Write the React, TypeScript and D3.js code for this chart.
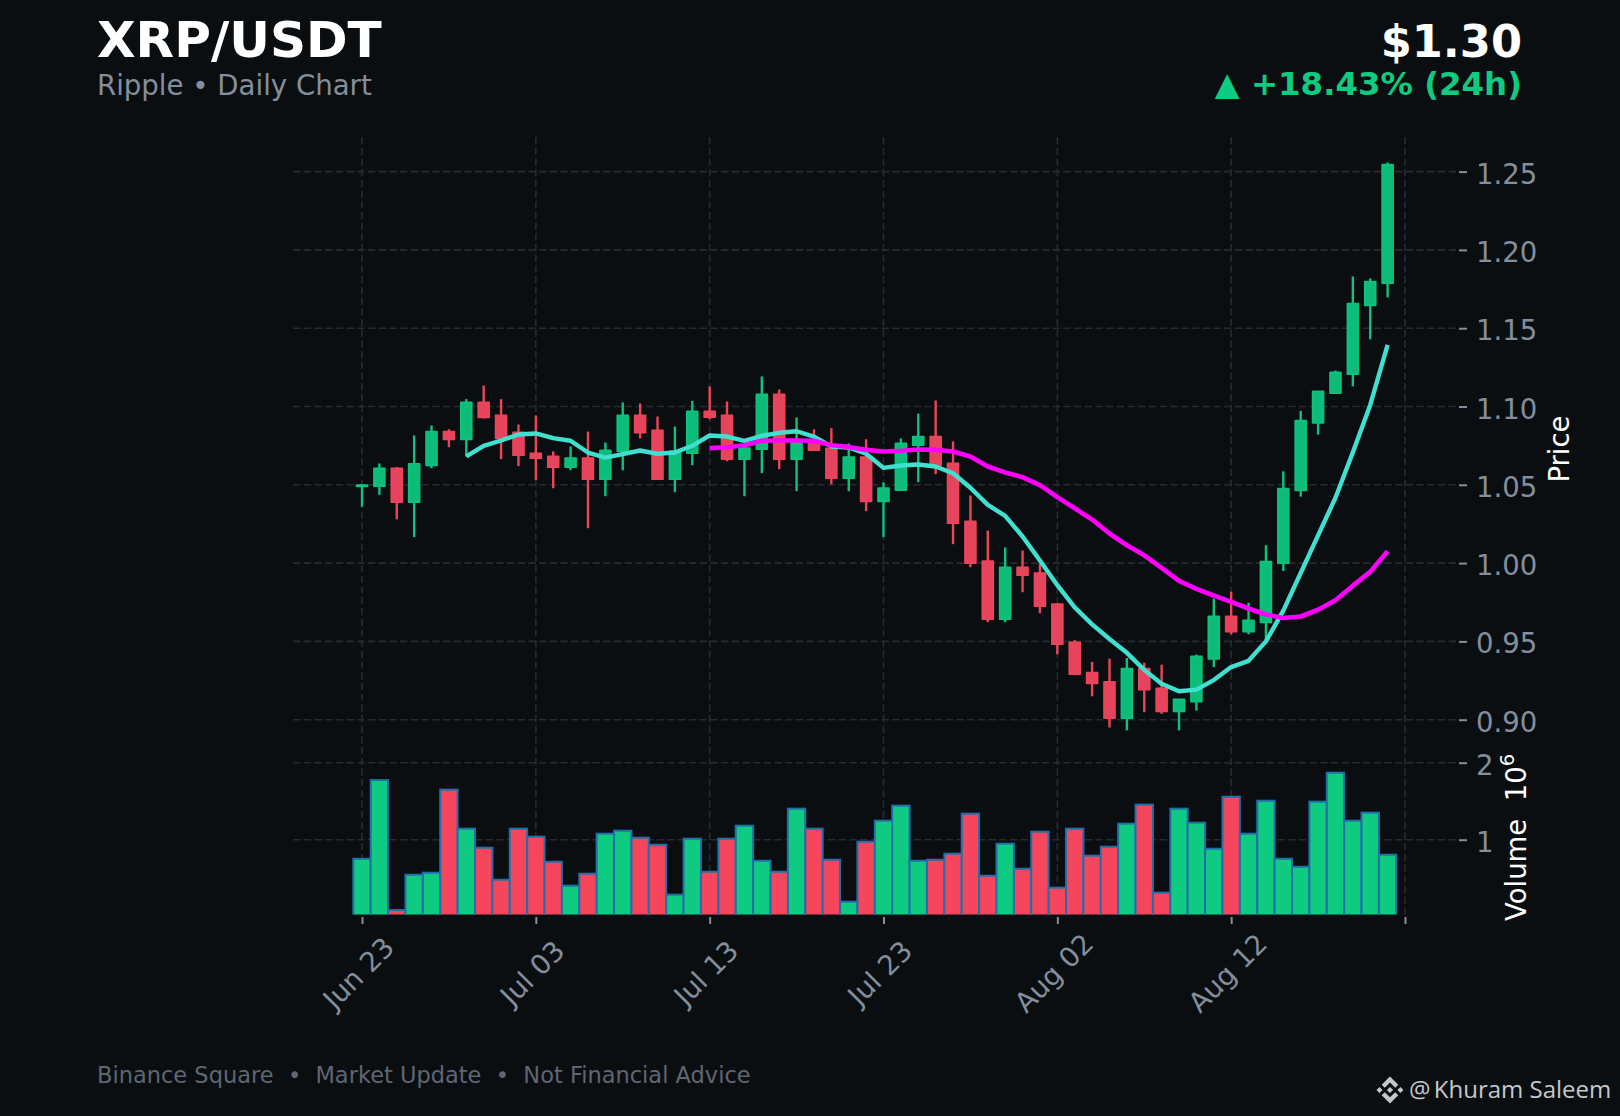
import React, { useEffect, useRef } from "react";
import * as d3 from "d3";

const WIDTH = 1620;
const HEIGHT = 1116;

const BG = "#0B0E11";
const GREEN = "#0ECB81";
const RED = "#F6465D";
const GRID = "#2B3139";
const MUTED = "#848E9C";

const START_DATE = Date.UTC(2025, 5, 23);
const DAY = 86400000;

const opens = [
  1.049, 1.0491, 1.0604, 1.0389, 1.0625, 1.084, 1.0791, 1.1026, 1.0943, 1.0834,
  1.07, 1.0681, 1.0613, 1.067, 1.0536, 1.0713, 1.0943, 1.0847, 1.0536, 1.0702,
  1.0968, 1.0943, 1.0664, 1.0728, 1.1077, 1.0664, 1.0787, 1.0732, 1.0542, 1.0676,
  1.0395, 1.0466, 1.0753, 1.0808, 1.0636, 1.0266, 1.0012, 0.9642, 0.9972, 0.9936,
  0.9738, 0.9494, 0.9301, 0.9242, 0.901, 0.9326, 0.92, 0.9053, 0.9116, 0.9389,
  0.9659, 0.9563, 0.9621, 1.0, 1.0465, 1.0896, 1.1086, 1.1207, 1.1646, 1.1788,
];
const highs = [
  1.0505, 1.0636, 1.0613, 1.0815, 1.0879, 1.0855, 1.1047, 1.1134, 1.1047, 1.0885,
  1.0943, 1.0713, 1.0745, 1.084, 1.077, 1.1026, 1.1019, 1.0936, 1.0872, 1.1036,
  1.1128, 1.1032, 1.0745, 1.1192, 1.1109, 1.093, 1.0855, 1.0862, 1.0764, 1.0791,
  1.0515, 1.0796, 1.0955, 1.1038, 1.0777, 1.0432, 1.0208, 1.01, 1.008, 0.9995,
  0.9744, 0.9508, 0.9369, 0.9389, 0.9394, 0.9364, 0.9351, 0.9129, 0.9416, 0.9773,
  0.9818, 0.9747, 1.0114, 1.0586, 1.0972, 1.1096, 1.123, 1.1831, 1.1818, 1.2558,
];
const lows = [
  1.036, 1.0436, 1.028, 1.0166, 1.0606, 1.074, 1.068, 1.0923, 1.0664, 1.0619,
  1.053, 1.0478, 1.0593, 1.0223, 1.0427, 1.0593, 1.0796, 1.0536, 1.0453, 1.0625,
  1.0919, 1.0651, 1.0427, 1.0574, 1.06, 1.0459, 1.0721, 1.0504, 1.0459, 1.0332,
  1.0166, 1.0466, 1.0517, 1.0568, 1.0121, 0.9974, 0.9623, 0.9623, 0.9814, 0.968,
  0.9418, 0.9285, 0.9149, 0.895, 0.8932, 0.9048, 0.9038, 0.8932, 0.9058, 0.9336,
  0.9545, 0.9545, 0.9508, 0.995, 1.0424, 1.0821, 1.1086, 1.1129, 1.1429, 1.1697,
];
const closes = [
  1.0497, 1.0604, 1.0389, 1.0634, 1.084, 1.0791, 1.1026, 1.093, 1.0796, 1.0689,
  1.067, 1.0613, 1.067, 1.0536, 1.0719, 1.0943, 1.0834, 1.0536, 1.0713, 1.0968,
  1.0932, 1.0664, 1.0734, 1.1077, 1.0664, 1.0766, 1.0721, 1.0542, 1.0676, 1.0395,
  1.0478, 1.0764, 1.0808, 1.0625, 1.0255, 1.0, 0.9642, 0.9972, 0.9923, 0.9725,
  0.9482, 0.9291, 0.9232, 0.901, 0.9326, 0.9192, 0.9053, 0.9129, 0.9404, 0.9659,
  0.9563, 0.9634, 1.001, 1.0475, 1.0909, 1.1096, 1.1217, 1.1657, 1.1798, 1.2545,
];
// volume in millions
const volumes = [
  0.753, 1.775, 0.087, 0.545, 0.571, 1.65, 1.143, 0.896, 0.48, 1.143,
  1.039, 0.714, 0.403, 0.558, 1.078, 1.117, 1.026, 0.935, 0.286, 1.013,
  0.584, 1.013, 1.182, 0.727, 0.584, 1.403, 1.143, 0.74, 0.195, 0.974,
  1.247, 1.442, 0.727, 0.74, 0.818, 1.338, 0.532, 0.948, 0.623, 1.104,
  0.377, 1.143, 0.792, 0.909, 1.208, 1.455, 0.312, 1.403, 1.221, 0.883,
  1.558, 1.078, 1.506, 0.753, 0.649, 1.494, 1.87, 1.247, 1.351, 0.805,
];

const MA_SHORT_START = 6;
const maShort = [
  1.0681, 1.0749, 1.0783, 1.0821, 1.0828, 1.0798, 1.0781, 1.0706, 1.0674, 1.0696,
  1.0719, 1.0698, 1.0706, 1.0749, 1.0815, 1.0808, 1.0781, 1.0813, 1.0832, 1.0842,
  1.0808, 1.0745, 1.0738, 1.0698, 1.0608, 1.0623, 1.063, 1.0617, 1.0574, 1.0481,
  1.0372, 1.0302, 1.017, 1.0017, 0.9859, 0.9717, 0.9609, 0.9515, 0.9427, 0.9318,
  0.923, 0.9182, 0.9192, 0.9253, 0.9336, 0.9376, 0.95, 0.9697, 0.9937, 1.0177,
  1.0417, 1.0707, 1.101, 1.1394,
];
const MA_LONG_START = 20;
const maLong = [
  1.0734, 1.074, 1.0753, 1.0781, 1.0783, 1.0783, 1.0781, 1.0753, 1.0742, 1.0723,
  1.0713, 1.0717, 1.0725, 1.0723, 1.0713, 1.0681, 1.0617, 1.0579, 1.0549, 1.0498,
  1.0421, 1.035, 1.0278, 1.0189, 1.0114, 1.005, 0.997, 0.9886, 0.9836, 0.9793,
  0.9752, 0.971, 0.9672, 0.9649, 0.9659, 0.9702, 0.9763, 0.9856, 0.9944, 1.0076,
];

const priceTicks = [0.9, 0.95, 1.0, 1.05, 1.1, 1.15, 1.2, 1.25];
const volumeTicks = [1, 2];
const dateTickOffsets = [0, 10, 20, 30, 40, 50, 60];
const dateTickLabels = ["Jun 23", "Jul 03", "Jul 13", "Jul 23", "Aug 02", "Aug 12", ""];

const BINANCE_LOGO =
  "M38.73 53.2L63.3 28.63l24.59 24.58 14.3-14.3L63.3 0 24.42 38.9zM0 63.3l14.3-14.3 14.3 14.3-14.3 14.3zM38.73 73.41l24.57 24.57 24.59-24.58 14.31 14.29-.01.01L63.3 126.61 24.42 87.73l-.02-.02zM97.98 63.31l14.3-14.3 14.33 14.3-14.3 14.3zM77.79 63.3h.01L63.3 48.79 52.59 59.5l-1.23 1.23-2.54 2.54-.02.02.02.02 14.48 14.49 14.5-14.5.01-.01z";

const dateAt = (i: number) => new Date(START_DATE + i * DAY);

const App = () => {
  const svgRef = useRef<SVGSVGElement>(null);

  useEffect(() => {
    const svg = d3.select(svgRef.current);
    svg.selectAll("*").remove();

    const font = "'DejaVu Sans', sans-serif";
    const tickSize = 27.5;
    const plotLeft = 293;
    const plotRight = 1459;
    const plotTop = 137;
    const plotBottom = 914.5;

    const x = d3.scaleUtc().domain([dateAt(0), dateAt(60)]).range([362, 1405]);
    const y = d3.scaleLinear().domain([0.9, 1.25]).range([719.7, 171.6]);
    const yVol = d3.scaleLinear().domain([0, 2]).range([916.7, 762.7]);
    const dayWidth = x(dateAt(1)) - x(dateAt(0));

    svg
      .append("rect")
      .attr("width", WIDTH)
      .attr("height", HEIGHT)
      .attr("fill", BG);

    svg
      .append("defs")
      .append("clipPath")
      .attr("id", "vol-clip")
      .append("rect")
      .attr("x", plotLeft)
      .attr("y", 740)
      .attr("width", plotRight - plotLeft)
      .attr("height", plotBottom - 740);

    // grid
    const grid = svg
      .append("g")
      .attr("stroke", GRID)
      .attr("stroke-width", 1.6)
      .attr("stroke-dasharray", "7.4 3.3")
      .attr("opacity", 0.85);
    grid
      .selectAll(".v")
      .data(dateTickOffsets)
      .enter()
      .append("line")
      .attr("x1", d => x(dateAt(d)))
      .attr("x2", d => x(dateAt(d)))
      .attr("y1", plotTop)
      .attr("y2", plotBottom);
    grid
      .selectAll(".h")
      .data(priceTicks)
      .enter()
      .append("line")
      .attr("x1", plotLeft)
      .attr("x2", plotRight)
      .attr("y1", d => y(d))
      .attr("y2", d => y(d));
    grid
      .selectAll(".hv")
      .data(volumeTicks)
      .enter()
      .append("line")
      .attr("x1", plotLeft)
      .attr("x2", plotRight)
      .attr("y1", d => yVol(d))
      .attr("y2", d => yVol(d));

    // volume bars
    svg
      .append("g")
      .attr("clip-path", "url(#vol-clip)")
      .selectAll("rect")
      .data(volumes)
      .enter()
      .append("rect")
      .attr("x", (d, i) => x(dateAt(i)) - dayWidth / 2)
      .attr("y", d => yVol(d))
      .attr("width", dayWidth)
      .attr("height", d => yVol(0) - yVol(d) + 6)
      .attr("fill", (d, i) => (closes[i] >= opens[i] ? GREEN : RED))
      .attr("stroke", "#1F6FA8")
      .attr("stroke-width", 2);

    // candles
    const candles = svg
      .append("g")
      .selectAll("g")
      .data(d3.range(opens.length))
      .enter()
      .append("g")
      .attr("transform", i => `translate(${x(dateAt(i))},0)`)
      .attr("stroke", i => (closes[i] >= opens[i] ? "#0CC27C" : "#EC4459"));
    candles
      .append("line")
      .attr("y1", i => y(highs[i]))
      .attr("y2", i => y(lows[i]))
      .attr("stroke-width", 2.4);
    candles
      .append("rect")
      .attr("x", -5.4)
      .attr("width", 10.8)
      .attr("y", i => y(Math.max(opens[i], closes[i])))
      .attr("height", i => Math.abs(y(opens[i]) - y(closes[i])))
      .attr("fill", i => (closes[i] >= opens[i] ? "#0CBC78" : "#E5445C"))
      .attr("stroke-width", 1.8)
      .attr("stroke-linejoin", "round");

    // moving averages
    const drawMa = (values: number[], start: number, color: string, w: number) => {
      const line = d3
        .line<number>()
        .x((d, i) => x(dateAt(i + start)))
        .y(d => y(d));
      svg
        .append("path")
        .attr("d", line(values) || "")
        .attr("fill", "none")
        .attr("stroke", color)
        .attr("stroke-width", w)
        .attr("stroke-linejoin", "round");
    };
    drawMa(maShort, MA_SHORT_START, "#40E0D0", 4.4);
    drawMa(maLong, MA_LONG_START, "#FF00FF", 4.6);

    // axes
    const styleAxis = (g: d3.Selection<SVGGElement, unknown, null, undefined>) => {
      g.select(".domain").remove();
      g.selectAll(".tick line").attr("stroke", MUTED).attr("stroke-width", 2);
      g.selectAll(".tick text")
        .attr("fill", MUTED)
        .attr("font-family", font)
        .attr("font-size", tickSize);
    };

    const priceAxis = svg
      .append("g")
      .attr("transform", `translate(${plotRight},0)`)
      .call(
        d3
          .axisRight(y)
          .tickValues(priceTicks)
          .tickFormat(d => d3.format(".2f")(d as number))
          .tickSize(8)
          .tickPadding(9) as any
      )
      .call(styleAxis as any);
    priceAxis.selectAll(".tick text").attr("dy", "0.42em");

    const volAxis = svg
      .append("g")
      .attr("transform", `translate(${plotRight},0)`)
      .call(
        d3
          .axisRight(yVol)
          .tickValues(volumeTicks)
          .tickFormat(d => String(d))
          .tickSize(8)
          .tickPadding(9) as any
      )
      .call(styleAxis as any);
    volAxis.selectAll(".tick text").attr("dy", "0.42em");

    const xAxis = svg
      .append("g")
      .attr("transform", `translate(0,917)`)
      .call(
        d3
          .axisBottom(x)
          .tickValues(dateTickOffsets.map(dateAt))
          .tickFormat((d, i) => dateTickLabels[i])
          .tickSize(7) as any
      )
      .call(styleAxis as any);
    xAxis
      .selectAll(".tick text")
      .attr("text-anchor", "middle")
      .attr("x", null)
      .attr("y", null)
      .attr("dy", "0.35em")
      .attr("transform", "translate(-4,56) rotate(-45)");

    // axis titles
    svg
      .append("text")
      .attr("transform", "translate(1569,449) rotate(-90)")
      .attr("text-anchor", "middle")
      .attr("font-family", font)
      .attr("font-size", tickSize)
      .attr("fill", "#FFFFFF")
      .text("Price");
    const volTitle = svg
      .append("text")
      .attr("transform", "translate(1526,921) rotate(-90)")
      .attr("font-family", font)
      .attr("font-size", tickSize)
      .attr("fill", "#FFFFFF")
      .style("white-space", "pre");
    volTitle.append("tspan").text("Volume  10");
    volTitle
      .append("tspan")
      .attr("dy", -12)
      .attr("font-size", 19.5)
      .text("6");

    // header
    const addText = (
      label: string,
      px: number,
      py: number,
      size: number,
      color: string,
      weight = "normal",
      anchor = "start"
    ) =>
      svg
        .append("text")
        .attr("x", px)
        .attr("y", py)
        .attr("font-family", font)
        .attr("font-size", size)
        .attr("font-weight", weight)
        .attr("text-anchor", anchor)
        .attr("fill", color)
        .style("white-space", "pre")
        .text(label);

    addText("XRP/USDT", 97, 56.7, 50.1, "#FFFFFF", "bold");
    addText("Ripple • Daily Chart", 97, 95, 27.6, MUTED);
    addText("$1.30", 1522, 56.7, 44.7, "#FFFFFF", "bold", "end");
    addText("▲ +18.43% (24h)", 1522, 95, 32.4, GREEN, "bold", "end");
    addText("Binance Square  •  Market Update  •  Not Financial Advice", 97, 1083, 22.5, "#5E6673");

    // watermark
    svg
      .append("path")
      .attr("d", BINANCE_LOGO)
      .attr("transform", "translate(1376.5,1076.5) scale(0.213)")
      .attr("fill", "#C4C8CC");
    const mark = svg
      .append("text")
      .attr("x", 1409)
      .attr("y", 1098)
      .attr("font-family", "'Open Sans', sans-serif")
      .attr("font-size", 24)
      .attr("fill", "#C4C8CC");
    mark.append("tspan").text("@ ");
    mark.append("tspan").attr("dx", -3).text("Khuram Saleem");
  }, []);

  return (
    <svg
      ref={svgRef}
      width={WIDTH}
      height={HEIGHT}
      style={{ position: "absolute", left: 0, top: 0, display: "block" }}
    />
  );
};

export default App;
